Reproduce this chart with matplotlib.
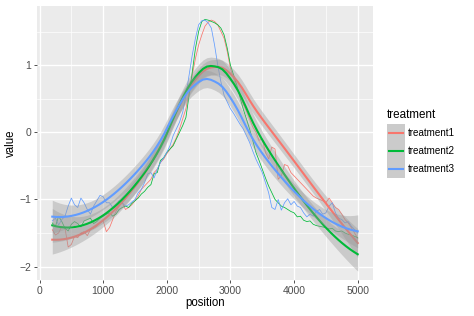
import numpy as np
import matplotlib
matplotlib.use("Agg")
import matplotlib.pyplot as plt
from matplotlib.patches import Rectangle
from matplotlib.lines import Line2D

plt.rcParams['font.family'] = ['Liberation Sans', 'DejaVu Sans']

# raw measurements, one value every 50 positions (200 .. 5000)
position = np.arange(200, 5001, 50)

treatment1 = [-1.45, -1.53, -1.50, -1.40, -1.43, -1.71, -1.67, -1.55, -1.57, -1.50,
              -1.48, -1.54, -1.45, -1.43, -1.40, -1.35, -1.32, -1.48, -1.42, -1.30,
              -1.18, -1.10, -1.05, -1.15, -1.12, -1.08, -1.02, -0.95, -0.85, -0.80,
              -0.75, -0.70, -0.60, -0.55, -0.45, -0.40, -0.32, -0.25, -0.18, -0.08,
              0.05, 0.20, 0.35, 0.60, 0.85, 1.10, 1.30, 1.45, 1.58, 1.64,
              1.67, 1.65, 1.60, 1.50, 1.40, 1.20, 0.95, 0.80, 0.65, 0.55,
              0.42, 0.32, 0.20, 0.08, 0.00, -0.12, -0.10, -0.30, -0.40, -0.22,
              -0.25, -0.70, -0.65, -0.48, -0.50, -0.60, -0.65, -0.70, -0.75, -0.80,
              -0.85, -0.90, -0.95, -0.98, -1.00, -1.02, -1.05, -0.98, -1.05, -1.12,
              -1.15, -1.22, -1.30, -1.35, -1.42, -1.50, -1.58]
treatment2 = [-1.35, -1.40, -1.25, -1.33, -1.43, -1.47, -1.37, -1.33, -1.36, -1.41,
              -1.32, -1.30, -1.28, -1.36, -1.33, -1.28, -1.25, -1.22, -1.20, -1.25,
              -1.22, -1.15, -1.12, -1.10, -1.12, -1.06, -1.02, -0.98, -0.92, -0.88,
              -0.82, -0.78, -0.62, -0.60, -0.42, -0.38, -0.30, -0.25, -0.20, -0.10,
              0.00, 0.10, 0.22, 0.55, 0.90, 1.25, 1.50, 1.65, 1.68, 1.67,
              1.65, 1.63, 1.60, 1.55, 1.45, 1.25, 1.00, 0.85, 0.70, 0.52,
              0.35, 0.20, 0.05, -0.12, -0.30, -0.42, -0.55, -0.68, -0.80, -0.90,
              -1.00, -1.05, -1.10, -1.12, -1.15, -1.18, -1.20, -1.26, -1.25, -1.31,
              -1.33, -1.32, -1.37, -1.39, -1.40, -1.41, -1.42, -1.44, -1.43, -1.47,
              -1.48, -1.47, -1.50, -1.52, -1.53, -1.55, -1.57]
treatment3 = [-1.32, -1.28, -1.38, -1.30, -1.25, -1.10, -0.98, -1.08, -1.12, -0.98,
              -1.05, -1.15, -1.22, -1.10, -1.02, -0.94, -0.96, -1.05, -1.05, -1.12,
              -1.10, -1.02, -1.05, -1.10, -1.08, -1.04, -1.00, -0.90, -0.85, -0.75,
              -0.62, -0.60, -0.68, -0.55, -0.45, -0.38, -0.30, -0.20, -0.05, 0.05,
              0.15, 0.30, 0.55, 0.85, 1.15, 1.40, 1.60, 1.66, 1.67, 1.63,
              1.55, 1.30, 1.00, 0.75, 0.55, 0.45, 0.35, 0.28, 0.20, 0.12,
              0.05, -0.05, -0.15, -0.28, -0.40, -0.50, -0.60, -0.75, -0.90, -1.12,
              -1.15, -1.00, -1.16, -1.05, -0.99, -1.08, -1.03, -1.10, -1.12, -1.20,
              -1.26, -1.22, -1.25, -1.18, -1.15, -1.22, -1.20, -1.10, -1.05, -1.20,
              -1.28, -1.30, -1.35, -1.33, -1.40, -1.45, -1.50]

groups = ['treatment1', 'treatment2', 'treatment3']
series = [treatment1, treatment2, treatment3]
colors = ['#F8766D', '#00BA38', '#619CFF']

W, H = 474, 316


def fx(px):
    return px / W


def fy(py):
    return 1 - py / H


def loess_matrix(x, x_new, span=0.75):
    # local quadratic fit with tricube weights (R loess defaults)
    n = len(x)
    q = int(np.floor(n * span))
    L = np.zeros((len(x_new), n))
    for k, x0 in enumerate(x_new):
        d = np.abs(x - x0)
        h = np.sort(d)[q - 1]
        w = np.clip(1 - (d / h) ** 3, 0, None) ** 3
        X = np.vstack([np.ones(n), x - x0, (x - x0) ** 2]).T
        XtW = X.T * w
        L[k] = np.linalg.solve(XtW @ X, XtW)[0]
    return L


def smooth(x, y, n_out=80):
    xs = x / 1000.0
    grid = np.linspace(xs.min(), xs.max(), n_out)
    Lx = loess_matrix(xs, xs)
    Lg = loess_matrix(xs, grid)
    y = np.asarray(y)
    R = np.eye(len(xs)) - Lx
    delta1 = np.trace(R.T @ R)
    sigma2 = np.sum((R @ y) ** 2) / delta1
    fit = Lg @ y
    se = np.sqrt(sigma2 * np.sum(Lg ** 2, axis=1))
    t = 1.99  # 95% t quantile for ~90 df
    return grid * 1000, fit, fit - t * se, fit + t * se


fig = plt.figure(figsize=(W / 100, H / 100), dpi=100)
ax = fig.add_axes([fx(37), fy(280), fx(373) - fx(37), fy(6) - fy(280)])
ax.set_facecolor('#EBEBEB')
for s in ax.spines.values():
    s.set_visible(False)

ax.set_xlim(-40, 5240)
ax.set_ylim(-2.2, 1.88)
ax.set_xticks([0, 1000, 2000, 3000, 4000, 5000])
ax.set_yticks([-2, -1, 0, 1])
ax.set_xticks([500, 1500, 2500, 3500, 4500], minor=True)
ax.set_yticks([-1.5, -0.5, 0.5, 1.5], minor=True)
ax.grid(which='major', color='white', lw=1.0)
ax.grid(which='minor', color='white', lw=0.5)
ax.set_axisbelow(True)
ax.tick_params(which='major', length=2.5, width=0.6, color='#333333',
               labelsize=7.5, labelcolor='#4D4D4D', pad=1.5)
ax.tick_params(which='minor', length=0)
ax.set_xlabel('position', fontsize=8.3, labelpad=1)
ax.set_ylabel('value', fontsize=8.3, labelpad=2)

for vals, c in zip(series, colors):
    ax.plot(position, vals, color=c, lw=0.55, zorder=2)

z = 3
for vals, c in zip(series, colors):
    gx, fit, lo, hi = smooth(position.astype(float), vals)
    ax.fill_between(gx, lo, hi, color='#999999', alpha=0.4, lw=0, zorder=z)
    ax.plot(gx, fit, color=c, lw=1.5, zorder=z + 1)
    z += 2

# legend
fig.text(fx(387), fy(115), 'treatment', fontsize=8.4, ha='left', va='center')
key_y = [133, 151, 169]
for name, c, ky in zip(groups, colors, key_y):
    fig.add_artist(Rectangle((fx(387), fy(ky + 9)), fx(18), 18 / H,
                             transform=fig.transFigure, facecolor='#CBCBCB',
                             edgecolor='none'))
    fig.add_artist(Line2D([fx(389), fx(403)], [fy(ky), fy(ky)],
                          transform=fig.transFigure, color=c, lw=1.5))
    fig.text(fx(408), fy(ky), name, fontsize=7.1, ha='left', va='center')

fig.savefig('out.png', dpi=100)
